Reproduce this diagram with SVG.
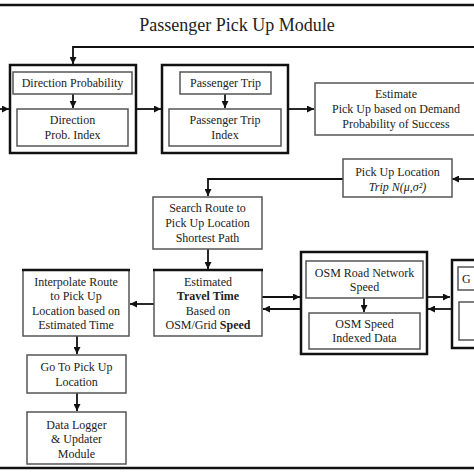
<svg xmlns="http://www.w3.org/2000/svg" width="474" height="474" viewBox="0 0 474 474">
<style>
text{font-family:"Liberation Serif","Times New Roman",serif;font-size:12px;fill:#222;text-anchor:middle}
.title{font-size:18px}
.outer{fill:none;stroke:#111;stroke-width:2.5}
.inner{fill:#fff;stroke:#555;stroke-width:1.5}
.box{fill:#fff;stroke:#555;stroke-width:1.5}
.topb{stroke:#111;stroke-width:2.5}
.c{fill:none;stroke:#111;stroke-width:1.8}
.frame{stroke:#111;stroke-width:2.5}
.b{font-weight:bold}
</style>
<defs>
<marker id="ah" markerUnits="userSpaceOnUse" markerWidth="8" markerHeight="7" refX="7" refY="3.5" orient="auto">
<path d="M0,0 L7,3.5 L0,7 z" fill="#111"/>
</marker>
</defs>
<rect width="474" height="474" fill="#fff"/>
<line class="frame" x1="0" y1="5" x2="474" y2="5"/>
<line class="frame" x1="0" y1="468" x2="474" y2="468"/>
<text class="title" x="237" y="31">Passenger Pick Up Module</text>

<g id="connectors">
<path class="c" d="M474,47 H73 V64" marker-end="url(#ah)"/>
<path class="c" d="M0,109 H9" marker-end="url(#ah)"/>
<path class="c" d="M136,109 H161" marker-end="url(#ah)"/>
<path class="c" d="M73,94 V108" marker-end="url(#ah)"/>
<path class="c" d="M225,94 V108" marker-end="url(#ah)"/>
<path class="c" d="M288,109 H314" marker-end="url(#ah)"/>
<path class="c" d="M474,179 H452" marker-end="url(#ah)"/>
<path class="c" d="M343,179 H208 V196" marker-end="url(#ah)"/>
<path class="c" d="M208,249 V269" marker-end="url(#ah)"/>
<path class="c" d="M154,304 H130" marker-end="url(#ah)"/>
<path class="c" d="M77,336 V354" marker-end="url(#ah)"/>
<path class="c" d="M77,393 V411" marker-end="url(#ah)"/>
<path class="c" d="M262,297 H300" marker-end="url(#ah)"/>
<path class="c" d="M301,309 H263" marker-end="url(#ah)"/>
<path class="c" d="M427,297 H450" marker-end="url(#ah)"/>
<path class="c" d="M451,309 H428" marker-end="url(#ah)"/>
<path class="c" d="M364,298 V312" marker-end="url(#ah)"/>
</g>

<g id="direction-module">
<rect class="outer" x="10" y="65" width="126" height="88"/>
<g id="direction-probability">
<rect class="inner" x="13" y="72" width="119" height="22"/>
<text x="72.5" y="87">Direction Probability</text>
</g>
<g id="direction-prob-index">
<rect class="inner" x="17" y="109" width="111" height="37"/>
<text x="72.5" y="124">Direction</text>
<text x="72.5" y="139">Prob. Index</text>
</g>
</g>

<g id="passenger-module">
<rect class="outer" x="162" y="65" width="126" height="88"/>
<g id="passenger-trip">
<rect class="inner" x="180" y="72" width="91" height="22"/>
<text x="225.5" y="87">Passenger Trip</text>
</g>
<g id="passenger-trip-index">
<rect class="inner" x="169" y="109" width="112" height="37"/>
<text x="225" y="124">Passenger Trip</text>
<text x="225" y="139">Index</text>
</g>
</g>

<g id="estimate-pickup">
<rect class="box" x="315" y="83" width="165" height="52"/>
<text x="396" y="98">Estimate</text>
<text x="396" y="113">Pick Up based on Demand</text>
<text x="396" y="128">Probability of Success</text>
</g>

<g id="pickup-location">
<rect class="box" x="343" y="159" width="109" height="38"/>
<text x="397.5" y="176">Pick Up Location</text>
<text x="397.5" y="191" font-style="italic">Trip N(μ,σ²)</text>
</g>

<g id="search-route">
<rect class="box" x="153" y="197" width="109" height="52"/>
<text x="207.5" y="212">Search Route to</text>
<text x="207.5" y="227">Pick Up Location</text>
<text x="207.5" y="242">Shortest Path</text>
</g>

<g id="estimated-travel-time">
<rect class="box" x="154" y="270" width="108" height="66"/>
<line class="topb" x1="153" y1="270" x2="263" y2="270"/>
<text x="208" y="286">Estimated</text>
<text x="208" y="300" class="b">Travel Time</text>
<text x="208" y="315">Based on</text>
<text x="208" y="329">OSM/Grid <tspan class="b">Speed</tspan></text>
</g>

<g id="interpolate-route">
<rect class="box" x="23" y="270" width="106" height="66"/>
<line class="topb" x1="22" y1="270" x2="130" y2="270"/>
<text x="76" y="286">Interpolate Route</text>
<text x="76" y="300">to Pick Up</text>
<text x="76" y="315">Location based on</text>
<text x="76" y="329">Estimated Time</text>
</g>

<g id="go-to-pickup">
<rect class="box" x="27" y="355" width="99" height="38"/>
<text x="76.5" y="371">Go To Pick Up</text>
<text x="76.5" y="386">Location</text>
</g>

<g id="data-logger">
<rect class="box" x="27" y="412" width="99" height="52"/>
<text x="76.5" y="429">Data Logger</text>
<text x="76.5" y="443">&amp; Updater</text>
<text x="76.5" y="458">Module</text>
</g>

<g id="osm-module">
<rect class="outer" x="301" y="252" width="126" height="102"/>
<g id="osm-road-network-speed">
<rect class="inner" x="306" y="261" width="117" height="37"/>
<text x="364.5" y="277">OSM Road Network</text>
<text x="364.5" y="291">Speed</text>
</g>
<g id="osm-speed-indexed">
<rect class="inner" x="309" y="313" width="111" height="36"/>
<text x="364.5" y="328">OSM Speed</text>
<text x="364.5" y="342">Indexed Data</text>
</g>
</g>

<g id="grid-module">
<rect class="outer" x="452" y="260" width="40" height="88"/>
<rect class="inner" x="458" y="267" width="30" height="23"/>
<rect class="inner" x="459" y="302" width="30" height="38"/>
<text x="462" y="283" style="text-anchor:start">G</text>
</g>
</svg>
